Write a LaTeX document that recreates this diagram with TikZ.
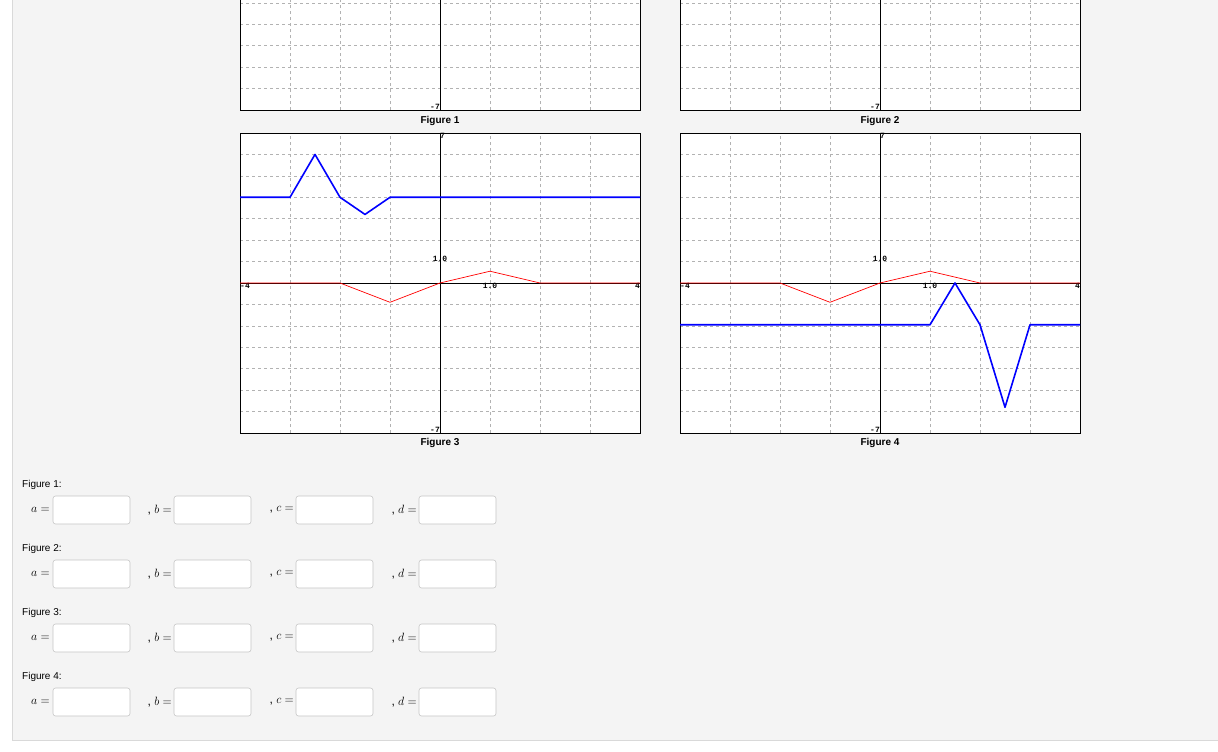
\documentclass[tikz,border=0pt]{standalone}
\usepackage{fontspec}
\setmainfont{Liberation Sans}
\setmonofont{Liberation Mono}
\begin{document}
\begin{tikzpicture}[x=1pt,y=-1pt,
  gridl/.style={gray!60,dashed,line width=0.6pt},
  frm/.style={black,line width=0.8pt},
  blu/.style={blue,line width=1.6pt,line join=round},
  rd/.style={red,line width=0.7pt},
  tick/.style={font=\ttfamily\bfseries\fontsize{8}{9}\selectfont,inner sep=0pt},
  figcap/.style={font=\bfseries\fontsize{10}{12}\selectfont},
  lab/.style={font=\fontsize{10}{12}\selectfont,anchor=west,inner sep=0pt},
  inbox/.style={draw=gray!45,fill=white,rounded corners=2.5pt,minimum width=77pt,minimum height=28pt,inner sep=0pt,line width=0.6pt},
  eq/.style={font=\fontsize{12}{14}\selectfont,anchor=east,inner sep=0pt}]
\clip (0,0) rectangle (1218,752);
\fill[white] (0,0) rectangle (1218,752);
\draw[fill={rgb,255:red,244;green,244;blue,244},draw=gray!30] (12,-2) rectangle (1222,740);
% graphs
\foreach \ox/\oy/\n in {440/-40/g1,880/-40/g2,440/283/g3,880/283/g4}{
\begin{scope}[shift={(\ox,\oy)},x=50pt,y=21.43pt]
  \fill[white] (-4,-7) rectangle (4,7);
  \foreach \i in {-3,-2,-1,1,2,3} \draw[gridl] (\i,-7) -- (\i,7);
  \foreach \j in {-6,...,-1,1,2,...,6} \draw[gridl] (-4,\j) -- (4,\j);
  \draw[frm] (0,-7) -- (0,7);
  \draw[frm] (-4,-7) rectangle (4,7);
  \node[tick,anchor=south east] (\n m7) at (0,-7) {-7};
  \node[tick,anchor=north west] (\n p7) at (0,7) {7};
\end{scope}}
\node[figcap] (f1) at (440,121) {Figure 1};
\node[figcap] (f2) at (880,121) {Figure 2};
\node[figcap] (f3) at (440,443) {Figure 3};
\node[figcap] (f4) at (880,443) {Figure 4};
\foreach \ox/\n in {440/a,880/b}{
\begin{scope}[shift={(\ox,283)},x=50pt,y=21.43pt]
  \draw[frm] (-4,0) -- (4,0);
  \node[tick,anchor=north west] (\n l) at (-4,0) {-4};
  \node[tick,anchor=north east] (\n r) at (4,0) {4};
  \node[tick,anchor=south] (\n y1) at (0,1) {1.0};
  \node[tick,anchor=north] (\n x1) at (1,0) {1.0};
  \draw[rd] (-4,0) -- (-2,0) -- (-1,-0.9) -- (0,0) -- (1,0.55) -- (2,0) -- (4,0);
\end{scope}}
\begin{scope}[shift={(440,283)},x=50pt,y=21.43pt]
  \draw[blu] (-4,4) -- (-3,4) -- (-2.5,6) -- (-2,4) -- (-1.5,3.2) -- (-1,4) -- (4,4);
\end{scope}
\begin{scope}[shift={(880,283)},x=50pt,y=21.43pt]
  \draw[blu] (-4,-1.95) -- (1,-1.95) -- (1.5,0) -- (2,-1.95) -- (2.5,-5.8) -- (3,-1.95) -- (4,-1.95);
\end{scope}
% form
\foreach \k/\yy in {1/485,2/549,3/613,4/677}{
  \node[lab] (fl\k) at (22,\yy) {Figure \k:};
  \pgfmathsetmacro{\ry}{\yy+25}
  \node[eq] (ea\k) at (50,\ry) {$a=$};
  \node[inbox] (ba\k) at (91.5,\ry) {};
  \node[eq] (eb\k) at (172,\ry) {, $b=$};
  \node[inbox] (bb\k) at (212.5,\ry) {};
  \node[eq] (ec\k) at (294,\ry) {, $c=$};
  \node[inbox] (bc\k) at (334.5,\ry) {};
  \node[eq] (ed\k) at (417,\ry) {, $d=$};
  \node[inbox] (bd\k) at (457.5,\ry) {};
}
\end{tikzpicture}
\end{document}
